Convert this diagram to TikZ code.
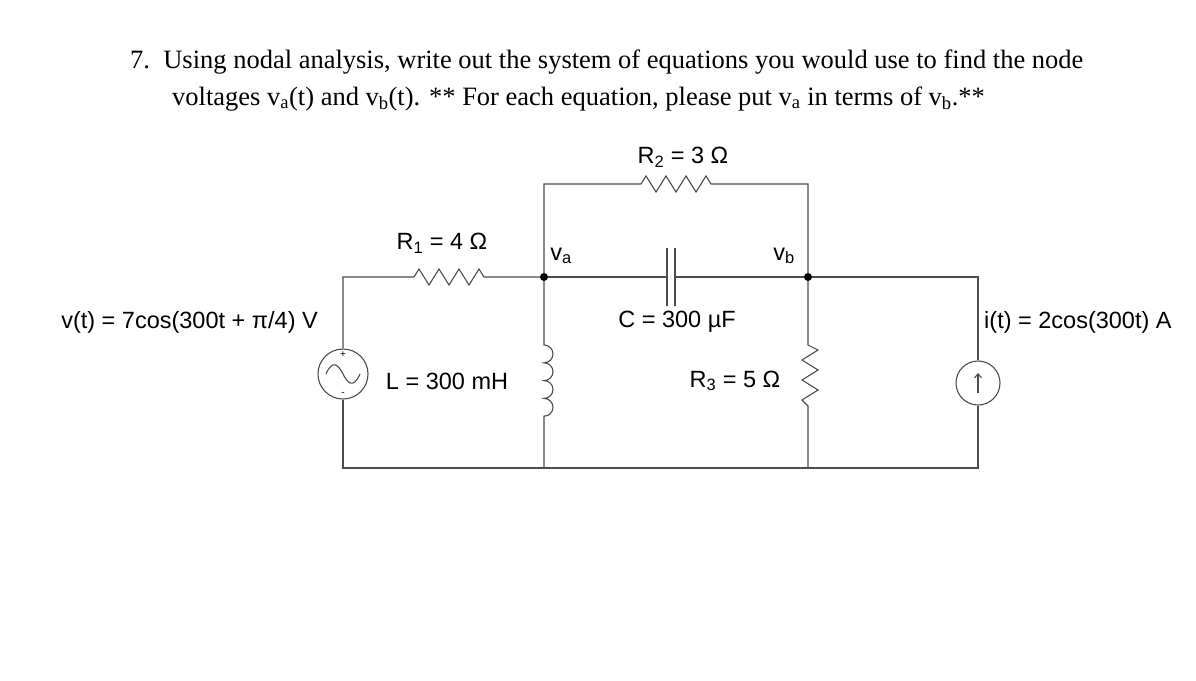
\documentclass[tikz,border=0pt]{standalone}
\usepackage{fontspec}
\setmainfont{Liberation Serif}
\setsansfont{Liberation Sans}
\usetikzlibrary{arrows.meta}
\begin{document}
\begin{tikzpicture}[x=1pt,y=-1pt,
  wire/.style={draw=black!70,line width=1.1pt},
  lbl/.style={font=\sffamily\fontsize{23.5}{26}\selectfont,inner sep=0pt},
  ttl/.style={font=\fontsize{26.5}{30}\selectfont,inner sep=0pt,anchor=base west},
  dot/.style={circle,fill=black,inner sep=0pt,minimum size=8pt}]
\useasboundingbox (0,0) rectangle (1196,680);
\node[ttl] (t1) at (130,68) {7.\ \ Using nodal analysis, write out the system of equations you would use to find the node};
\node[ttl] (t2) at (172,105) {voltages v\textsubscript{a}(t) and v\textsubscript{b}(t). ** For each equation, please put v\textsubscript{a} in terms of v\textsubscript{b}.**};
% nodes
\coordinate (tl) at (343,277);
\coordinate (bl) at (343,468);
\coordinate (br) at (978,468);
\coordinate (tr) at (978,277);
\coordinate (bla) at (544,468);
\coordinate (blb) at (808,468);
\coordinate (ta) at (544,184);
\coordinate (tb) at (808,184);
\node[dot] (va) at (544,277) {};
\node[dot] (vb) at (808,277) {};
\node[circle,draw=black!70,line width=1.1pt,minimum size=50pt] (vs) at (343,374) {};
\node[circle,draw=black!70,line width=1.1pt,minimum size=44pt] (is) at (978,383) {};
% outer wires
\draw[wire] (vs.north) -- (tl) -- (414,277) -- ++(5,-8) -- ++(10,16) -- ++(10,-16) -- ++(10,16) -- ++(10,-16) -- ++(10,16) -- ++(10,-16) -- ++(5,8) -- (va);
\draw[wire] (vs.south) -- (bl) -- (br) -- (is.south);
\draw[wire] (is.north) -- (tr) -- (vb);
% R2
\draw[wire] (va) -- (ta) -- (641,184) -- ++(5,-8) -- ++(10,16) -- ++(10,-16) -- ++(10,16) -- ++(10,-16) -- ++(10,16) -- ++(10,-16) -- ++(5,8) -- (tb) -- (vb);
% C
\draw[wire] (va) -- (667,277) (675,277) -- (vb);
\draw[wire] (667,248) -- (667,306) (675,248) -- (675,306);
% L
\draw[wire] (va) -- (544,345)
  arc[start angle=90,end angle=-90,x radius=9pt,y radius=8.9pt]
  arc[start angle=90,end angle=-90,x radius=9pt,y radius=8.9pt]
  arc[start angle=90,end angle=-90,x radius=9pt,y radius=8.9pt]
  arc[start angle=90,end angle=-90,x radius=9pt,y radius=8.9pt] -- (bla);
% R3
\draw[wire] (vb) -- (808,345) -- ++(10,5) -- ++(-16,10) -- ++(16,10) -- ++(-16,10) -- ++(16,10) -- ++(-16,10) -- ++(6,6) -- (blb);
% source symbols
\draw[wire] ([xshift=-17pt]vs.center) .. controls ([xshift=-10pt,yshift=16pt]vs.center) and ([xshift=-4pt,yshift=8pt]vs.center) .. (vs.center) .. controls ([xshift=4pt,yshift=-8pt]vs.center) and ([xshift=10pt,yshift=-16pt]vs.center) .. ([xshift=17pt]vs.center);
\node[font=\sffamily\fontsize{10}{10}\selectfont,inner sep=0pt] (pl) at (343,355) {+};
\node[font=\sffamily\fontsize{10}{10}\selectfont,inner sep=0pt] (mi) at (343,394) {-};
\draw[line width=1.1pt,draw=black!70,-{Straight Barb[length=4pt,width=7pt]}] ([yshift=-10pt]is.center) -- ([yshift=10pt]is.center);
% labels
\node[lbl,anchor=east] (lv) at (318,322) {v(t) = 7cos(300t + \char"03C0{}/4) V};
\node[lbl,anchor=west] (li) at (984,322) {i(t) = 2cos(300t) A};
\node[lbl] (lr1) at (442,243) {R\textsubscript{1} = 4 \char"03A9{}};
\node[lbl] (lva) at (561,256) {v\textsubscript{a}};
\node[lbl] (lvb) at (784,256) {v\textsubscript{b}};
\node[lbl] (lr2) at (683,157) {R\textsubscript{2} = 3 \char"03A9{}};
\node[lbl] (lc) at (677,322) {C = 300 µF};
\node[lbl] (ll) at (447,381) {L = 300 mH};
\node[lbl] (lr3) at (735,381) {R\textsubscript{3} = 5 \char"03A9{}};
\end{tikzpicture}
\end{document}
